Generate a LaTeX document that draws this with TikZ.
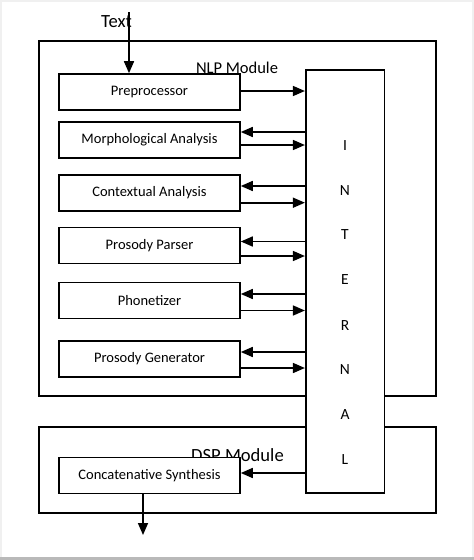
\documentclass[tikz,border=0pt]{standalone}
\usepackage{fontspec}
\setmainfont{Carlito}
\usetikzlibrary{arrows.meta,calc}
\begin{document}
\begin{tikzpicture}[x=1pt,y=-1pt,
  modbox/.style={draw=black,line width=1.6pt},
  procbox/.style={draw=black,line width=1.6pt,fill=white,minimum width=181pt,minimum height=36pt,inner sep=0pt,font=\fontsize{14.5}{17}\selectfont},
  arr/.style={line width=1.6pt,-{Triangle[length=12pt,width=10pt]}},
  biglabel/.style={inner sep=0pt,anchor=base},
  letter/.style={inner sep=0pt,font=\fontsize{15.5}{18}\selectfont}]
\useasboundingbox (0,0) rectangle (474,560);
% faint frame of the reference image
\fill[gray!12] (0,0) rectangle (474,2);
\fill[gray!12] (0,0) rectangle (2,560);
\fill[gray!12] (472,0) rectangle (474,560);
\fill[gray!55] (0,557) rectangle (474,560);
% module frames
\draw[modbox] (39,41) rectangle (436,396);
\draw[modbox] (39,427) rectangle (436,513);
\node[biglabel,font=\fontsize{16.5}{19}\selectfont] (nlp) at (237,73.3) {NLP Module};
\node[biglabel,font=\fontsize{18.6}{22}\selectfont] (dsp) at (237.5,461.7) {DSP Module};
% internal box
\node[draw=black,line width=1.6pt,fill=white,minimum width=78.6pt,minimum height=423pt,inner sep=0pt] (int) at (345,281.5) {};
\foreach \l/\yy [count=\i] in {I/145.7,N/190.7,T/235,E/280,R/325.7,N/370,A/415,L/460}
  \node[letter] (l\i) at (345,\yy) {\l};
% process boxes
\node[procbox] (pre) at (149.5,92) {Preprocessor};
\node[procbox] (morph) at (149.5,140) {Morphological Analysis};
\node[procbox] (ctx) at (149.5,193) {Contextual Analysis};
\node[procbox] (pp) at (149.5,245.5) {Prosody Parser};
\node[procbox] (ph) at (149.5,300.5) {Phonetizer};
\node[procbox] (pg) at (149.5,359) {Prosody Generator};
\node[procbox] (cs) at (149.5,475.5) {Concatenative Synthesis};
% text input
\node[biglabel,font=\fontsize{18.6}{22}\selectfont] (txt) at (116.5,27) {Text};
\coordinate (tin) at (129,12);
\draw[arr] (tin) -- (tin |- pre.north);
% connectors
\draw[arr] ([yshift=1pt]pre.east) -- ([yshift=1pt]pre.east -| int.west);
\draw[arr] ([yshift=8pt]morph.east -| int.west) -- ([yshift=8pt]morph.east);
\draw[arr] ([yshift=-5pt]morph.east) -- ([yshift=-5pt]morph.east -| int.west);
\draw[arr] ([yshift=7pt]ctx.east -| int.west) -- ([yshift=7pt]ctx.east);
\draw[arr] ([yshift=-9.7pt]ctx.east) -- ([yshift=-9.7pt]ctx.east -| int.west);
\draw[arr] ([yshift=4pt]pp.east -| int.west) -- ([yshift=4pt]pp.east);
\draw[arr] ([yshift=-10.5pt]pp.east) -- ([yshift=-10.5pt]pp.east -| int.west);
\draw[arr] ([yshift=6.5pt]ph.east -| int.west) -- ([yshift=6.5pt]ph.east);
\draw[arr] ([yshift=-10pt]ph.east) -- ([yshift=-10pt]ph.east -| int.west);
\draw[arr] ([yshift=7pt]pg.east -| int.west) -- ([yshift=7pt]pg.east);
\draw[arr] ([yshift=-9pt]pg.east) -- ([yshift=-9pt]pg.east -| int.west);
\draw[arr] ([yshift=2.5pt]cs.east -| int.west) -- ([yshift=2.5pt]cs.east);
% output
\coordinate (out) at (143,535);
\draw[arr] (out |- cs.south) -- (out);
\end{tikzpicture}
\end{document}
